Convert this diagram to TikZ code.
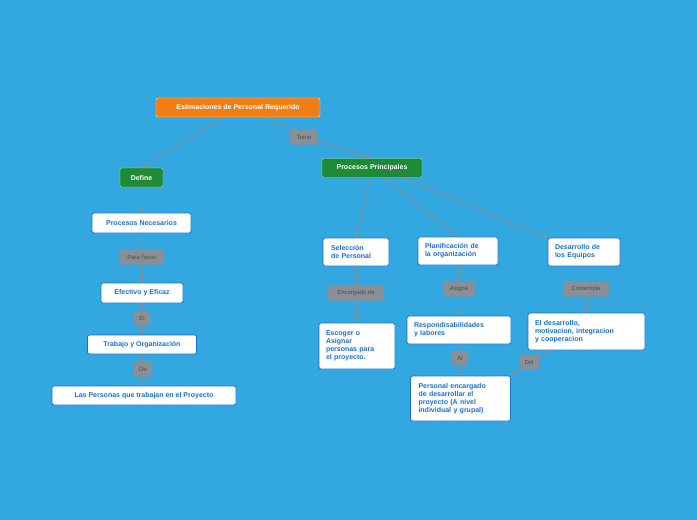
\documentclass[tikz,border=0pt]{standalone}
\usepackage{fontspec}
\setmainfont{Liberation Sans}
\usetikzlibrary{arrows.meta}
\definecolor{bg}{HTML}{33A7DF}
\definecolor{org}{HTML}{F07E12}
\definecolor{grn}{HTML}{1E8A36}
\definecolor{txtb}{HTML}{1A6FD8}
\definecolor{lab}{HTML}{8A8F96}
\definecolor{edge}{HTML}{8A8F96}
\begin{document}
\begin{tikzpicture}[x=1pt,y=-1pt,
 base/.style={rounded corners=2pt,font=\fontsize{7}{8}\selectfont\bfseries,inner sep=0pt,align=left},
 topn/.style={base,fill=org,draw=white!80!org,text=white,minimum width=164pt,minimum height=19pt,align=center},
 gn/.style={base,fill=grn,draw=white!70!grn,text=white,minimum height=19pt,align=center},
 wn/.style={base,fill=white,draw=txtb,text=txtb,line width=0.8pt},
 lb/.style={rounded corners=2pt,fill=lab,text=black!70,font=\fontsize{6}{7}\selectfont,inner sep=0pt,minimum height=15pt},
 ln/.style={draw=edge,line width=1pt},
 ar/.style={ln,-{Stealth[length=5pt,width=5pt]}}]
\fill[bg] (0,0) rectangle (697,520);
\node[topn] (root) at (238,107.5) {Estimaciones de Personal Requerido};
\node[gn,minimum width=43pt] (def) at (141.5,177.5) {Define};
\node[gn,minimum width=100pt] (pp) at (372,168) {Procesos Principales};
\node[wn,minimum width=99pt,minimum height=20pt,align=center] (pn) at (141.5,223) {Procesos Necesarios};
\node[wn,minimum width=82pt,minimum height=20pt,align=center] (ef) at (142,293) {Efectivo y Eficaz};
\node[wn,minimum width=109pt,minimum height=19pt,align=center] (tr) at (142,344.5) {Trabajo y Organización};
\node[wn,minimum width=184pt,minimum height=19pt,align=center] (lp) at (144,395.5) {Las Personas que trabajan en el Proyecto};
\node[wn,minimum width=66pt,minimum height=28pt,text width=50pt,inner xsep=8pt] (sel) at (356,252) {Selección\\de Personal};
\node[wn,minimum width=80pt,minimum height=28pt,text width=66pt,inner xsep=7pt] (pla) at (458,251) {Planificación de\\la organización};
\node[wn,minimum width=72pt,minimum height=28pt,text width=58pt,inner xsep=7pt] (des) at (584,252) {Desarrollo de\\los Equipos};
\node[wn,minimum width=76pt,minimum height=46pt,text width=62pt,inner xsep=7pt] (esc) at (357,346) {Escoger o\\Asignar\\personas para\\el proyecto.};
\node[wn,minimum width=104pt,minimum height=28pt,text width=90pt,inner xsep=7pt] (res) at (459,330) {Respondisabilidades\\y labores};
\node[wn,minimum width=117pt,minimum height=37pt,text width=103pt,inner xsep=7pt] (eld) at (586.5,331.5) {El desarrollo,\\motivacion, integracion\\y cooperacion};
\node[wn,minimum width=99pt,minimum height=45pt,text width=84pt,inner xsep=8pt] (per) at (460.5,398.5) {Personal encargado\\de desarrollar el\\proyecto (A nivel\\individual y grupal)};
\node[lb,minimum width=28pt] (l1) at (304,137) {Tiene};
\node[lb,minimum width=44pt] (l2) at (142,257) {Para hacer};
\node[lb,minimum width=16pt] (l3) at (142,318) {El};
\node[lb,minimum width=18pt] (l4) at (143,369) {De};
\node[lb,minimum width=56pt] (l5) at (356,293) {Encargado de};
\node[lb,minimum width=32pt] (l6) at (459,289) {Asigne};
\node[lb,minimum width=46pt] (l7) at (586,289) {Contempla};
\node[lb,minimum width=16pt] (l8) at (460,358) {Al};
\node[lb,minimum width=20pt] (l9) at (529,362) {Del};
\draw[ar] (root.south west) ++(67,0) -- (def.north);
\draw[ln] (root.south) ++(30,0) -- (l1);
\draw[ar] (l1) -- (pp.north);
\draw[ar] (def) -- (pn);
\draw[ln] (pn) -- (l2); \draw[ar] (l2) -- (ef);
\draw[ln] (ef) -- (l3); \draw[ar] (l3) -- (tr);
\draw[ln] (tr) -- (l4); \draw[ar] (l4) -- (lp);
\draw[ar] (pp.south) ++(-2,0) -- (sel.north);
\draw[ar] (pp.south) ++(12,0) -- (pla.north);
\draw[ar] (pp.south) ++(30,0) -- (des.north west);
\draw[ln] (sel) -- (l5); \draw[ar] (l5) -- (esc);
\draw[ln] (pla) -- (l6); \draw[ar] (l6) -- (res);
\draw[ln] (des) -- (l7); \draw[ar] (l7) -- (eld);
\draw[ln] (res) -- (l8); \draw[ar] (l8) -- (per);
\draw[ln] (eld.south) ++(-35,0) -- (l9); \draw[ar] (l9) -- (per.north east);
\end{tikzpicture}
\end{document}
